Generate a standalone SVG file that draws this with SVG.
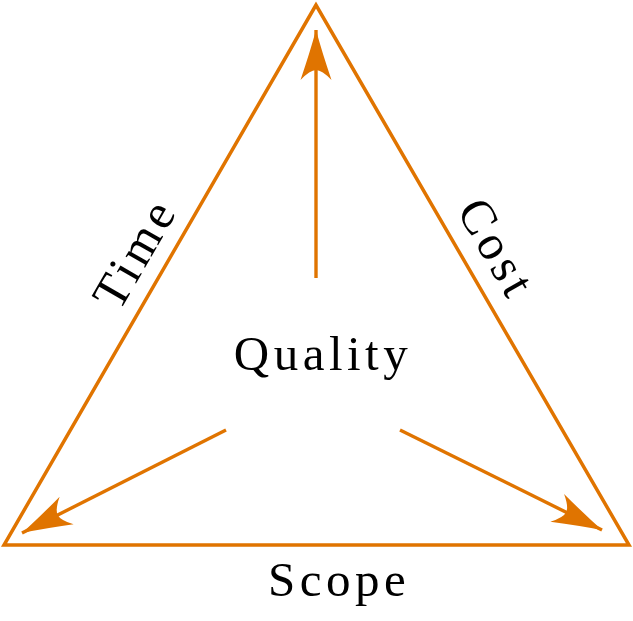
<svg xmlns="http://www.w3.org/2000/svg" width="633" height="621" viewBox="0 0 633 621">
<style>
.edge{fill:none;stroke:#E07400;stroke-width:3.5;stroke-linejoin:miter}
.arr{fill:none;stroke:#E07400;stroke-width:3.4}
.lbl{font-family:"Liberation Serif",serif;font-size:49px;fill:#000;text-anchor:middle;letter-spacing:4.5px}
</style>
<defs>
<marker id="stealth" markerUnits="userSpaceOnUse" viewBox="-52 -17 54 34" refX="0" refY="0" markerWidth="54" markerHeight="34" orient="auto">
<path d="M0,0 Q-22,-6 -50,-15.5 Q-40,-6 -40,0 Q-40,6 -50,15.5 Q-22,6 0,0 Z" fill="#E07400"/>
</marker>
</defs>
<g id="triangle">
<path class="edge" d="M316,5 L4,545 L629,545 Z"/>
</g>
<g id="connectors">
<line class="arr" x1="316" y1="278" x2="316" y2="30" marker-end="url(#stealth)"/>
<line class="arr" x1="226" y1="430" x2="22" y2="533" marker-end="url(#stealth)"/>
<line class="arr" x1="400" y1="430" x2="602" y2="530" marker-end="url(#stealth)"/>
</g>
<g id="time"><text class="lbl" transform="translate(149,261) rotate(-60)">Time</text></g>
<g id="cost"><text class="lbl" transform="translate(483,257) rotate(60)">Cost</text></g>
<g id="quality"><text class="lbl" x="323" y="370">Quality</text></g>
<g id="scope"><text class="lbl" x="339" y="596">Scope</text></g>
</svg>
